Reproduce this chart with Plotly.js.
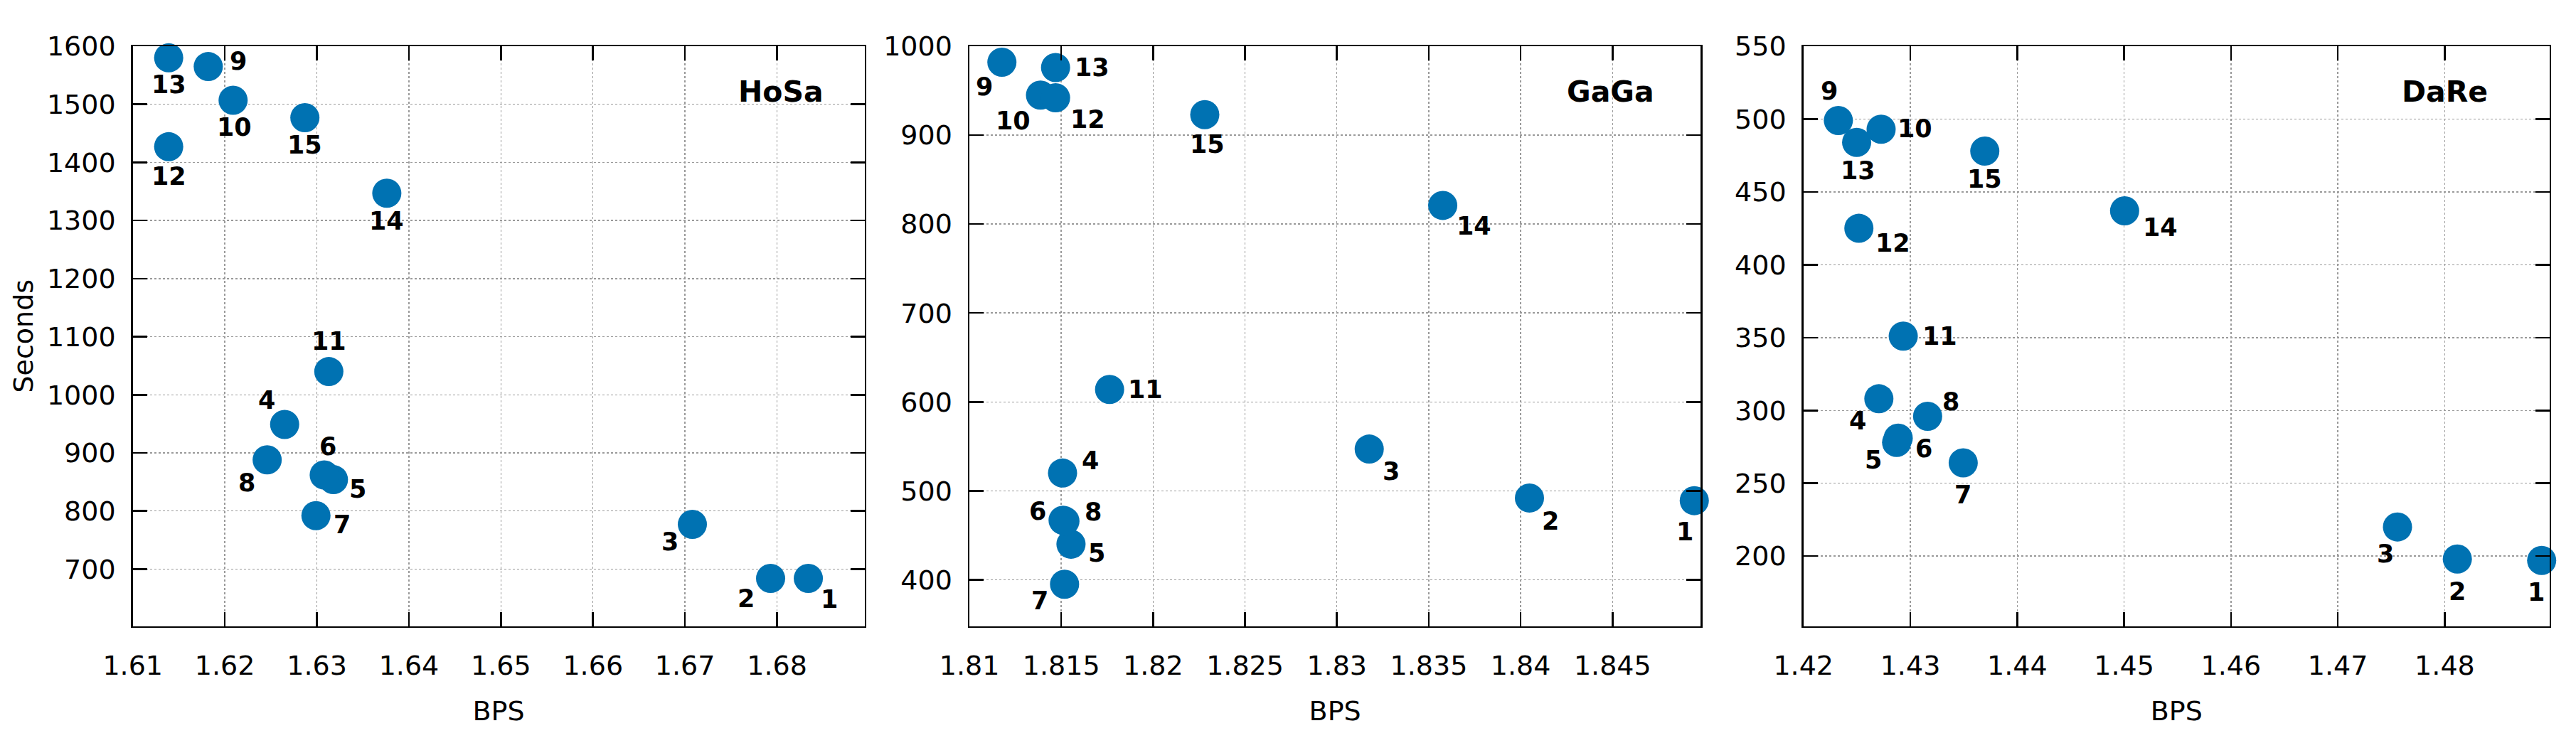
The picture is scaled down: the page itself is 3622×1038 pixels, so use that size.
<!DOCTYPE html>
<html>
<head>
<meta charset="utf-8">
<script src="https://cdn.plot.ly/plotly-3.0.1.min.js"></script>
<style>
  html, body { margin: 0; padding: 0; background: #ffffff; }
  #chart { width: 3622px; height: 1038px; }
</style>
</head>
<body>
<div id="chart"></div>
<script>
// ---------------- data ----------------
const pointLabels = ['1','2','3','4','5','6','7','8','9','10','11','12','13','14','15'];

const hosaBPS = [1.6834, 1.6793, 1.6708, 1.6265, 1.6318, 1.6308, 1.6299, 1.6246, 1.6182, 1.6209, 1.6313, 1.6139, 1.6139, 1.6376, 1.6287];
const hosaSec = [684, 684, 777, 949, 854, 862, 792, 888, 1565, 1507, 1040, 1427, 1580, 1347, 1477];

const gagaBPS = [1.84945, 1.84048, 1.83176, 1.81507, 1.81553, 1.81510, 1.81518, 1.81520, 1.81177, 1.81387, 1.81763, 1.81469, 1.81469, 1.83576, 1.82281];
const gagaSec = [489, 492, 547, 520, 440, 467, 395, 466, 982, 945, 614, 942, 976, 821, 923];

const dareBPS = [1.48907, 1.48118, 1.47558, 1.42706, 1.42872, 1.42887, 1.43495, 1.43162, 1.42327, 1.42727, 1.42934, 1.42519, 1.42498, 1.45005, 1.43697];
const dareSec = [197, 198, 220, 308, 278, 281, 264, 296, 499, 493, 351, 425, 484, 437, 478];

const panelNames = ['HoSa', 'GaGa', 'DaRe'];

const hosaXTicks = [1.61, 1.62, 1.63, 1.64, 1.65, 1.66, 1.67, 1.68];
const hosaXText  = ['1.61', '1.62', '1.63', '1.64', '1.65', '1.66', '1.67', '1.68'];
const hosaYTicks = [700, 800, 900, 1000, 1100, 1200, 1300, 1400, 1500, 1600];
const gagaXTicks = [1.81, 1.815, 1.82, 1.825, 1.83, 1.835, 1.84, 1.845];
const gagaXText  = ['1.81', '1.815', '1.82', '1.825', '1.83', '1.835', '1.84', '1.845'];
const gagaYTicks = [400, 500, 600, 700, 800, 900, 1000];
const dareXTicks = [1.42, 1.43, 1.44, 1.45, 1.46, 1.47, 1.48];
const dareXText  = ['1.42', '1.43', '1.44', '1.45', '1.46', '1.47', '1.48'];
const dareYTicks = [200, 250, 300, 350, 400, 450, 500, 550];

const xLabel = 'BPS';
const yLabel = 'Seconds';

// ---------------- styling (label offsets in px: [dx, dy], dy downward) ----------------
const hosaOffsets = [[29,30],[-35,29],[-32,24],[-25,-34],[34,13],[5,-40],[37,13],[-29,32],[42,-8],[2,38],[0,-43],[0,42],[0,38],[0,39],[0,38]];
const gagaOffsets = [[-13,44],[29,33],[31,31],[39,-17],[36,13],[-36,-13],[-35,23],[40,-13],[-25,34],[-38,36],[50,0],[45,30],[51,0],[44,29],[4,42]];
const dareOffsets = [[-8,45],[0,46],[-17,38],[-30,31],[-33,25],[36,15],[0,45],[33,-20],[-13,-42],[48,-1],[51,0],[48,21],[2,40],[50,23],[0,39]];

const W = 3622, H = 1038;
const blue = '#0072b2';
const FONT = 'DejaVu Sans, sans-serif';

const panels = [
  {bps: hosaBPS, sec: hosaSec, off: hosaOffsets, xt: hosaXTicks, xtt: hosaXText, yt: hosaYTicks,
   xr: [1.61, 1.6895], yr: [602, 1600], px: [186.7, 1215.5], titleX: 0.886},
  {bps: gagaBPS, sec: gagaSec, off: gagaOffsets, xt: gagaXTicks, xtt: gagaXText, yt: gagaYTicks,
   xr: [1.81, 1.8498], yr: [348, 1000], px: [1363, 2391.3], titleX: 0.877},
  {bps: dareBPS, sec: dareSec, off: dareOffsets, xt: dareXTicks, xtt: dareXText, yt: dareYTicks,
   xr: [1.42, 1.4898], yr: [152, 550], px: [2535.7, 3584.7], titleX: 0.86}
];

const yDomain = [(H - 880.5) / H, (H - 65) / H];

const traces = [];
const annotations = [];
const layout = {
  width: W, height: H,
  margin: {l: 0, r: 0, t: 0, b: 0},
  paper_bgcolor: '#ffffff',
  plot_bgcolor: '#ffffff',
  showlegend: false,
  font: {family: FONT, size: 38, color: '#000000'}
};

panels.forEach((p, i) => {
  const sfx = i === 0 ? '' : String(i + 1);
  const xa = 'x' + sfx, ya = 'y' + sfx;
  traces.push({
    type: 'scatter', mode: 'markers',
    x: p.bps, y: p.sec, xaxis: xa, yaxis: ya,
    marker: {size: 41, color: blue, line: {width: 0}},
    hoverinfo: 'skip', cliponaxis: false
  });
  const common = {
    showline: true, linecolor: '#000000', linewidth: 2.5, mirror: 'allticks',
    ticks: 'inside', ticklen: 20, tickwidth: 2.5, tickcolor: '#000000',
    showgrid: true, gridcolor: '#9a9a9a', gridwidth: 1.5, griddash: 'dot',
    zeroline: false, tickfont: {family: FONT, size: 38, color: '#000000'}
  };
  layout['xaxis' + sfx] = Object.assign({}, common, {
    domain: [p.px[0] / W, p.px[1] / W], anchor: ya, range: p.xr,
    tickmode: 'array', tickvals: p.xt, ticktext: p.xtt,
    ticklabelstandoff: 20,
    title: {text: xLabel, font: {family: FONT, size: 38, color: '#000000'}, standoff: 30}
  });
  const yax = Object.assign({}, common, {
    domain: yDomain, anchor: xa, range: p.yr,
    tickmode: 'array', tickvals: p.yt, ticktext: p.yt.map(String),
    ticklabelstandoff: 14
  });
  if (i === 0) {
    yax.title = {text: yLabel, font: {family: FONT, size: 38, color: '#000000'}, standoff: 8};
  }
  layout['yaxis' + sfx] = yax;

  p.bps.forEach((xv, k) => {
    annotations.push({
      xref: xa, yref: ya, x: xv, y: p.sec[k],
      text: '<b>' + pointLabels[k] + '</b>', showarrow: false,
      xanchor: 'center', yanchor: 'middle',
      xshift: p.off[k][0], yshift: -p.off[k][1],
      font: {family: FONT, size: 35, color: '#000000'}
    });
  });
  annotations.push({
    xref: xa + ' domain', yref: ya + ' domain', x: p.titleX, y: 0.922,
    text: '<b>' + panelNames[i] + '</b>', showarrow: false,
    xanchor: 'center', yanchor: 'middle',
    font: {family: FONT, size: 41, color: '#000000'}
  });
});

layout.annotations = annotations;

Plotly.newPlot('chart', traces, layout, {staticPlot: true, displayModeBar: false});
</script>
</body>
</html>
